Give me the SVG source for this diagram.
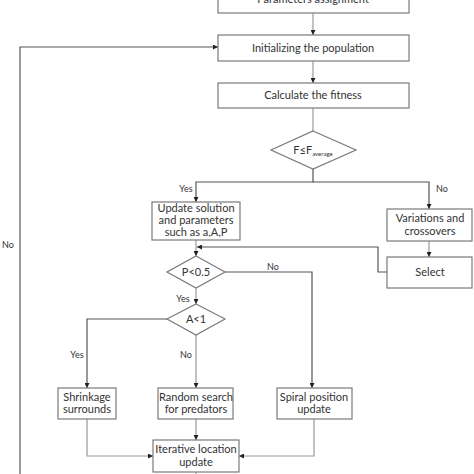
<svg xmlns="http://www.w3.org/2000/svg" width="474" height="474" viewBox="0 0 474 474">
<style>
.box{fill:#fff;stroke:#7a7a7a;stroke-width:1.2}
.t{font-family:Lato,"Liberation Sans",sans-serif;font-size:11px;fill:#333;text-anchor:middle}
.l{font-family:Lato,"Liberation Sans",sans-serif;font-size:9px;fill:#333;text-anchor:middle}
.c{fill:none;stroke:#555;stroke-width:1.2}
.g{fill:none;stroke:#9a9a9a;stroke-width:1.2}
</style>
<defs>
<marker id="a" viewBox="0 0 10 10" refX="10" refY="5" markerWidth="5" markerHeight="5" orient="auto" markerUnits="userSpaceOnUse"><path d="M0,0L10,5L0,10z" fill="#222"/></marker>
</defs>
<rect width="474" height="474" fill="#fff"/>
<g id="connectors">
<path class="g" d="M313,13V35" marker-end="url(#a)"/>
<path class="g" d="M313,61V83" marker-end="url(#a)"/>
<path class="g" d="M313,108V131"/>
<path class="c" d="M313,169V182H196V202" marker-end="url(#a)"/>
<path class="c" d="M313,182H429V209" marker-end="url(#a)"/>
<path class="g" d="M429,241V257" marker-end="url(#a)"/>
<path class="c" d="M387,272H378V247H197" marker-end="url(#a)"/>
<path class="g" d="M196,240V256" marker-end="url(#a)"/>
<path class="g" d="M196,288V304" marker-end="url(#a)"/>
<path class="c" d="M225,272H312V388" marker-end="url(#a)"/>
<path class="c" d="M167,319H87V388" marker-end="url(#a)"/>
<path class="g" d="M196,335V388" marker-end="url(#a)"/>
<path class="g" d="M196,419V440" marker-end="url(#a)"/>
<path class="g" d="M87,419V456H153" marker-end="url(#a)"/>
<path class="g" d="M314,419V456H239" marker-end="url(#a)"/>
<path class="g" d="M196,472V474"/>
<path class="c" d="M20,474V47H218" marker-end="url(#a)"/>
<text class="l" x="186" y="192">Yes</text>
<text class="l" x="442" y="192">No</text>
<text class="l" x="273" y="270">No</text>
<text class="l" x="183" y="302">Yes</text>
<text class="l" x="77" y="358">Yes</text>
<text class="l" x="186" y="358">No</text>
<text class="l" x="8" y="248">No</text>
</g>
<g id="n1"><rect class="box" x="218" y="-2" width="191" height="15"/><text class="t" x="313" y="3">Parameters assignment</text></g>
<g id="n2"><rect class="box" x="218" y="35" width="191" height="26"/><text class="t" x="313" y="52">Initializing the population</text></g>
<g id="n3"><rect class="box" x="218" y="83" width="191" height="25"/><text class="t" x="313" y="99">Calculate the fitness</text></g>
<g id="n4"><polygon class="box" points="313,131 356,150 313,169 271,150"/><text class="t" x="313" y="154" style="text-anchor:middle">F≤F<tspan font-size="6" dy="2">average</tspan></text></g>
<g id="n5"><rect class="box" x="152" y="202" width="88" height="38"/><text class="t" x="196" y="212">Update solution</text><text class="t" x="196" y="224">and parameters</text><text class="t" x="196" y="236">such as a,A,P</text></g>
<g id="n6"><rect class="box" x="387" y="209" width="85" height="32"/><text class="t" x="430" y="222">Variations and</text><text class="t" x="430" y="235">crossovers</text></g>
<g id="n7"><rect class="box" x="387" y="257" width="85" height="31"/><text class="t" x="430" y="276">Select</text></g>
<g id="n8"><polygon class="box" points="196,256 225,272 196,288 167,272"/><text class="t" x="196" y="276">P&lt;0.5</text></g>
<g id="n9"><polygon class="box" points="196,304 225,319 196,335 167,319"/><text class="t" x="196" y="323">A&lt;1</text></g>
<g id="n10"><rect class="box" x="58" y="388" width="58" height="31"/><text class="t" x="87" y="401">Shrinkage</text><text class="t" x="87" y="413">surrounds</text></g>
<g id="n11"><rect class="box" x="158" y="388" width="75" height="31"/><text class="t" x="196" y="401">Random search</text><text class="t" x="196" y="413">for predators</text></g>
<g id="n12"><rect class="box" x="277" y="388" width="75" height="31"/><text class="t" x="314" y="401">Spiral position</text><text class="t" x="314" y="413">update</text></g>
<g id="n13"><rect class="box" x="153" y="440" width="86" height="32"/><text class="t" x="196" y="453">Iterative location</text><text class="t" x="196" y="466">update</text></g>
</svg>
